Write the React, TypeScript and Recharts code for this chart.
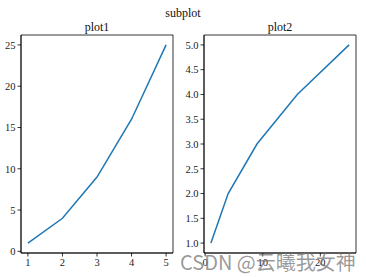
import React from "react"
import { LineChart, Line, XAxis, YAxis, ReferenceArea } from "recharts"

const squares = [1, 4, 9, 16, 25]
const counts = [1, 2, 3, 4, 5]

const leftXTicks = [1, 2, 3, 4, 5]
const leftYTicks = [0, 5, 10, 15, 20, 25]
const rightXTicks = [0, 10, 20]
const rightYTicks = [1.0, 1.5, 2.0, 2.5, 3.0, 3.5, 4.0, 4.5, 5.0]

const FONT = "'Liberation Serif', 'DejaVu Serif', serif"
const BLUE = "#1f77b4"

const plot1Data = counts.map((x, i) => ({ x, y: squares[i] }))
const plot2Data = squares.map((x, i) => ({ x, y: counts[i] }))

const tickStyle = { fontSize: 10.5, fill: "#222", fontFamily: FONT }
const axisLine = { stroke: "#000", strokeWidth: 0.8 }

function Panel({
  data,
  xDomain,
  yDomain,
  xTicks,
  yTicks,
  yFormat,
}: {
  data: { x: number; y: number }[]
  xDomain: [number, number]
  yDomain: [number, number]
  xTicks: number[]
  yTicks: number[]
  yFormat?: (v: number) => string
}) {
  return (
    <LineChart width={183} height={277} data={data} margin={{ top: 35, right: 10, bottom: 4, left: 0 }}>
      <XAxis
        dataKey="x"
        type="number"
        domain={xDomain}
        ticks={xTicks}
        allowDataOverflow
        tickSize={3.5}
        height={20}
        tick={tickStyle}
        axisLine={axisLine}
        tickLine={axisLine}
        tickMargin={2}
      />
      <YAxis
        type="number"
        domain={yDomain}
        ticks={yTicks}
        allowDataOverflow
        width={21}
        tickSize={3.5}
        tick={tickStyle}
        axisLine={axisLine}
        tickLine={axisLine}
        tickMargin={2}
        tickFormatter={yFormat}
      />
      <ReferenceArea
        x1={xDomain[0]}
        x2={xDomain[1]}
        y1={yDomain[0]}
        y2={yDomain[1]}
        fill="none"
        fillOpacity={0}
        stroke="#000"
        strokeWidth={0.8}
        ifOverflow="visible"
      />
      <Line
        dataKey="y"
        stroke={BLUE}
        strokeWidth={1.5}
        dot={false}
        isAnimationActive={false}
      />
    </LineChart>
  )
}

export default function App() {
  const label = (left: number, top: number, text: string, size = 12) => (
    <div
      style={{
        position: "absolute",
        left,
        top,
        transform: "translate(-50%, -50%)",
        fontFamily: FONT,
        fontSize: size,
        color: "#111",
        whiteSpace: "nowrap",
      }}
    >
      {text}
    </div>
  )
  return (
    <div style={{ position: "fixed", left: 0, top: 0, width: 366, height: 277, background: "#fff" }}>
      <div style={{ position: "absolute", left: 0, top: 0 }}>
        <Panel
          data={plot1Data}
          xDomain={[0.8, 5.2]}
          yDomain={[-0.2, 26.2]}
          xTicks={leftXTicks}
          yTicks={leftYTicks}
        />
      </div>
      <div style={{ position: "absolute", left: 183, top: 0 }}>
        <Panel
          data={plot2Data}
          xDomain={[-0.2, 26.2]}
          yDomain={[0.8, 5.2]}
          xTicks={rightXTicks}
          yTicks={rightYTicks}
          yFormat={(v) => v.toFixed(1)}
        />
      </div>
      {label(183, 13, "subplot")}
      {label(97, 27, "plot1")}
      {label(280, 27, "plot2")}
      <div
        style={{
          position: "absolute",
          left: 180,
          top: 249,
          fontFamily: "'Noto Sans CJK SC', 'Noto Sans', sans-serif",
          fontSize: 20,
          color: "rgba(120,120,120,0.75)",
          whiteSpace: "nowrap",
          lineHeight: "26px",
        }}
      >
        CSDN @云曦我女神
      </div>
    </div>
  )
}
